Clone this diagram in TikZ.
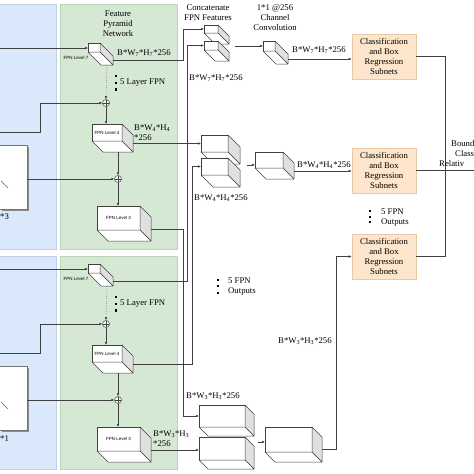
\documentclass[tikz,border=0pt]{standalone}
\usepackage{fontspec}
\setmainfont{Liberation Serif}
\newfontfamily\sansf{Liberation Sans}
\usetikzlibrary{arrows.meta}
\definecolor{bluefill}{HTML}{DAE8FC}
\definecolor{blueline}{HTML}{BCD0EA}
\definecolor{greenfill}{HTML}{D5E8D4}
\definecolor{greenline}{HTML}{B9D3B7}
\definecolor{subfill}{HTML}{FDE6CC}
\definecolor{subline}{HTML}{E9C9A3}
\definecolor{ink}{HTML}{404040}
\tikzset{
 cubefront/.style={draw=ink, fill=white, line width=0.5pt, inner sep=0pt, outer sep=0pt, anchor=north west, font=\sansf\fontsize{4.5}{5}\selectfont},
 cubeside/.style={draw=ink, fill=black!12, line width=0.5pt, line join=round},
 cubebottom/.style={draw=ink, fill=white, line width=0.5pt, line join=round},
 arr/.style={draw=ink, line width=0.5pt, -{Latex[length=3pt,width=2.6pt]}},
 plainline/.style={draw=ink, line width=0.5pt},
 lab/.style={inner sep=1pt, font=\fontsize{8.7}{10}\selectfont},
 tinylab/.style={inner sep=0.5pt, font=\sansf\fontsize{4.5}{5}\selectfont},
 subnet/.style={draw=subline, fill=subfill, line width=0.6pt, minimum width=64pt, minimum height=45pt, align=center, inner sep=0pt, font=\fontsize{8.7}{10.3}\selectfont},
 oplus/.style={circle, draw=ink, fill=white, line width=0.5pt, minimum size=7pt, inner sep=0pt,
   path picture={\draw[ink, line width=0.4pt] (path picture bounding box.north) -- (path picture bounding box.south) (path picture bounding box.west) -- (path picture bounding box.east);}},
 imgbox/.style={draw=black!55, fill=white, line width=0.5pt, anchor=north west, inner sep=0pt, outer sep=0pt},
 bluepanel/.style={fill=bluefill, draw=blueline, line width=0.6pt},
 greenpanel/.style={fill=greenfill, draw=greenline, line width=0.6pt},
}
% name, x, y, w, h, depth, text
\newcommand\cub[7]{%
 \node[cubefront, minimum width=#4pt, minimum height=#5pt] (#1) at (#2,#3) {#7};
 \filldraw[cubeside] (#1.north east) -- ++(#6,#6) -- ++(0,#5) -- (#1.south east) -- cycle;
 \filldraw[cubebottom] (#1.south west) -- (#1.south east) -- ++(#6,#6) -- ++(-#4,0) -- cycle;
 \coordinate (#1-o) at ([shift={(#6,#6)}]#1.east);
 \coordinate (#1-b) at ([shift={(#6,#6)}]#1.south);
}
\newcommand\fpnpanel[1]{%
 \fill[black!45] (1.5,146.5) rectangle (29,210.5);
 \node[imgbox, minimum width=28pt, minimum height=64pt] (img#1) at (-1,145) {};
 \draw[black!60, line width=0.5pt] (1,181) -- (8,188);
 \cub{L7#1}{88}{43}{12}{9}{13}{}
 \cub{L4#1}{92}{124}{30}{17}{11}{FPN Level 4}
 \cub{L3#1}{97}{206}{43}{24}{11}{FPN Level 3}
 \node[tinylab, anchor=east] (lab7#1) at (89,58) {FPN Level 7};
 \node[oplus] (P1#1) at (106,103) {};
 \node[oplus] (P2#1) at (118,179) {};
 \coordinate (i7#1) at (-1,48);
 \draw[arr] (i7#1) -- (i7#1 -| L7#1.west);
 \coordinate (i4#1) at (-1,132);
 \draw[arr] (i4#1) -| (40,103) -- (P1#1.west);
 \draw[arr] (img#1.east |- P2#1) -- (P2#1.west);
 \draw[arr, dotted] (L7#1-b) -- (P1#1.north);
 \draw[arr] (P1#1.south) -- (P1#1 |- L4#1.north);
 \draw[arr] (L4#1-b) -- (P2#1.north);
 \draw[arr] (P2#1.south) -- (P2#1 |- L3#1.north);
 \fill[black] (114.8,74.8) rectangle ++(2.4,2.4);
 \fill[black] (114.8,81.8) rectangle ++(2.4,2.4);
 \fill[black] (114.8,88.3) rectangle ++(2.4,2.4);
 \node[lab, anchor=west] (five#1) at (119,83) {5 Layer FPN};
}
\begin{document}
\begin{tikzpicture}[x=1pt,y=-1pt]
\useasboundingbox (0,0) rectangle (474,474);
% panels
\path[bluepanel] (-5,4) rectangle (56,249);
\path[greenpanel] (60,4) rectangle (177,249);
\path[bluepanel] (-5,256) rectangle (56,469);
\path[greenpanel] (60,256) rectangle (177,469);
\node[lab, align=center] (hfpn) at (118,24) {Feature\\Pyramid\\Network};
\begin{scope}
 \fpnpanel{t}
\end{scope}
\begin{scope}[shift={(0,221)}]
 \fpnpanel{b}
\end{scope}
\node[lab, anchor=west] (star3) at (-1,217) {*3};
\node[lab, anchor=west] (star1) at (-1,439) {*1};
\node[lab, anchor=west] (lt7) at (116,53) {B*W\textsubscript{7}*H\textsubscript{7}*256};
\node[lab, anchor=west, align=left] (lt4) at (133,132.5) {B*W\textsubscript{4}*H\textsubscript{4}\\*256};
\node[lab, anchor=west, align=left] (lb3) at (152,439) {B*W\textsubscript{3}*H\textsubscript{3}\\*256};
% concatenation
\cub{A1}{204}{25}{14}{8}{11}{}
\cub{A2}{204}{41}{14}{9}{11}{}
\cub{B1}{201}{135}{27}{17}{12}{}
\cub{B2}{201}{158}{27}{17}{12}{}
\cub{D1}{199}{405}{46}{22}{9}{}
\cub{D2}{199}{437}{46}{23}{9}{}
% channel convolutions
\cub{C7}{263}{41}{12}{10}{13}{}
\cub{C4}{255}{152}{28}{16}{11}{}
\cub{C3}{265}{427}{47}{25}{10}{}
% headers
\node[lab, align=center] (hcat) at (208,13) {Concatenate\\FPN Features};
\node[lab, align=center] (hconv) at (275,18) {1*1 @256\\Channel\\Convolution};
% subnets
\node[subnet] (S1) at (384,56.5) {Classification\\and Box\\Regression\\Subnets};
\node[subnet] (S2) at (384,170.5) {Classification\\and Box\\Regression\\Subnets};
\node[subnet] (S3) at (384,256.5) {Classification\\and Box\\Regression\\Subnets};
% FPN -> concat
\draw[arr] (L7t-o) -| ([xshift=-21pt]A1.west) -- (A1.west);
\draw[arr] (L7b-o) -| ([xshift=-17pt]A2.west) -- (A2.west);
\draw[arr] (L4t-o) -- (L4t-o -| B1.west);
\draw[arr] (L4b-o) -| ([xshift=-9pt]B2.west) -- (B2.west);
\draw[arr] (L3t-o) -| ([xshift=-16pt]D1.west) -- (D1.west);
\draw[arr] (L3b-o) -- (L3b-o -| D2.west);
% concat -> conv
\coordinate (s7) at (235,46);
\coordinate (s4) at (247,165);
\coordinate (s3) at (258,442);
\draw[arr] (s7) -- (s7 -| C7.west);
\draw[arr] (s4) -- (s4 -| C4.west);
\draw[arr] (s3) -- (s3 -| C3.west);
% conv -> subnets
\draw[arr] (C7-o) -- (C7-o -| S1.west);
\draw[arr] (C4-o) -- (C4-o -| S2.west);
\draw[arr] (C3-o) -| ([xshift=-15pt]S3.west) -- (S3.west);
% labels
\node[lab, anchor=west] (l7m) at (188,78) {B*W\textsubscript{7}*H\textsubscript{7}*256};
\node[lab, anchor=west] (l4m) at (193,198) {B*W\textsubscript{4}*H\textsubscript{4}*256};
\node[lab, anchor=west] (l3m) at (185,396) {B*W\textsubscript{3}*H\textsubscript{3}*256};
\node[lab, anchor=west] (l7c) at (291,50) {B*W\textsubscript{7}*H\textsubscript{7}*256};
\node[lab, anchor=west] (l4c) at (296,165) {B*W\textsubscript{4}*H\textsubscript{4}*256};
\node[lab, anchor=west] (l3c) at (277,341) {B*W\textsubscript{3}*H\textsubscript{3}*256};
% 5 FPN outputs
\fill[black] (216.8,278.8) rectangle ++(2.4,2.4);
\fill[black] (216.8,284.8) rectangle ++(2.4,2.4);
\fill[black] (216.8,291.8) rectangle ++(2.4,2.4);
\node[lab, anchor=west, align=left] (fo1) at (227,287) {5 FPN\\Outputs};
\fill[black] (368.8,209.8) rectangle ++(2.4,2.4);
\fill[black] (368.8,215.8) rectangle ++(2.4,2.4);
\fill[black] (368.8,220.8) rectangle ++(2.4,2.4);
\node[lab, anchor=west, align=left] (fo2) at (380,217.5) {5 FPN\\Outputs};
% outputs
\coordinate (j) at (445,170.5);
\coordinate (outr) at (476,170.5);
\draw[plainline] (S1.east) -| (j);
\draw[plainline] (S3.east) -| (j);
\draw[plainline] (S2.east) -- (outr);
\node[lab, anchor=west] (bd1) at (450,144) {Bound};
\node[lab, anchor=west] (bd2) at (454,154) {Class};
\node[lab, anchor=west] (bd3) at (438,163.5) {Relativ};
\end{tikzpicture}
\end{document}
